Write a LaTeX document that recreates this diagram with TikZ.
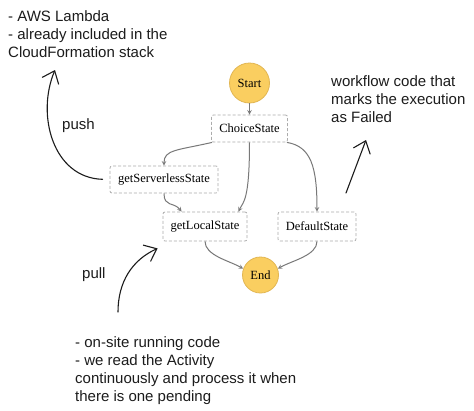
\documentclass[tikz,border=0pt]{standalone}
\usepackage{fontspec}
\setmainfont{Liberation Serif}
\setsansfont{Liberation Sans}
\usepackage{xcolor}
\usetikzlibrary{calc, arrows.meta}

\definecolor{stateYellow}{RGB}{250,206,96}
\definecolor{stateRim}{RGB}{226,182,82}
\definecolor{boxRim}{RGB}{172,172,172}
\definecolor{flowGray}{RGB}{120,120,120}
\definecolor{noteInk}{RGB}{28,28,28}

\tikzset{
	terminal/.style = {circle, draw = stateRim, fill = stateYellow, line width = 0.8pt, inner sep = 0pt, text = black, font = \fontsize{12.5}{14}\selectfont},
	statebox/.style = {draw = boxRim, dash pattern = on 3pt off 2pt, rounded corners = 2pt, line width = 0.8pt, inner sep = 0pt, font = \fontsize{12.5}{14}\selectfont, text = black},
	flow/.style = {-stealth, flowGray, line width = 1pt},
	note/.style = {align = left, inner sep = 0pt, anchor = base west, font = \sffamily\fontsize{15}{18}\selectfont, text = noteInk},
	scribble/.style = {-{Straight Barb[length = 11pt, width = 18pt]}, noteInk, line width = 1.1pt, line cap = round}
}

\begin{document}
\begin{tikzpicture}[x = 1pt, y = -1pt]
			\def\W{474};
			\def\H{410};

			\useasboundingbox (0,0) rectangle (\W,\H);
			\fill [white] (0,0) rectangle (\W,\H);

			\begin{scope}
				\node [terminal, minimum size = 40pt] (start) at (249.5,83) {Start};
				\node [statebox, minimum width = 76pt, minimum height = 27pt] (choice) at (249.5,128.5) {ChoiceState};
				\node [statebox, minimum width = 108pt, minimum height = 27pt] (serverless) at (164,179.5) {getServerlessState};
				\node [statebox, minimum width = 84pt, minimum height = 29pt] (local) at (205,226.5) {getLocalState};
				\node [statebox, minimum width = 78pt, minimum height = 29pt] (default) at (317,226.5) {DefaultState};
				\node [terminal, minimum size = 36pt] (finish) at (260.5,275) {End};
			\end{scope}

			\begin{scope}[flow]
				\draw (start) -- (choice);
				\draw ([xshift=1pt]choice.south west) .. controls +(-35,8) and +(0,-16) .. (serverless.north);
				\draw (choice.south) .. controls +(0,58) and +(5,-10) .. ([xshift=-9pt]local.north east);
				\draw (serverless.south) .. controls +(0,14) and +(-8,-10) .. ([xshift=19pt]local.north west);
				\draw ([xshift=-1pt]choice.south east) .. controls +(24,4) and +(0,-45) .. (default.north);
				\draw (local.south) .. controls +(0,14) and +(-14,-8) .. (finish.160);
				\draw (default.south) .. controls +(0,14) and +(14,-8) .. (finish.20);
			\end{scope}

			\node [note] (lambdaNote) at (8,57.7) {- AWS Lambda\\- already included in the\\CloudFormation stack};
			\node [note] (pushLabel) at (62,129) {push};
			\node [note] (failNote) at (331,122) {workflow code that\\marks the execution\\as Failed};
			\node [note] (pullLabel) at (82,278.5) {pull};
			\node [note] (activityNote) at (75,401.5) {- on-site running code\\- we read the Activity\\continuously and process it when\\there is one pending};

			\coordinate (pushTip) at (55,70);
			\coordinate (pullTail) at (118,312);
			\coordinate (pullTip) at ([xshift=-5pt, yshift=-7pt]local.south west);
			\coordinate (failTail) at (346,193);
			\coordinate (failTip) at (366,140);

			\begin{scope}[scribble]
				\draw [shorten <= 7pt] (serverless.west) .. controls (53,178) and (36,115) .. (pushTip);
				\draw (pullTail) .. controls (118,282) and (132,260) .. (pullTip);
				\draw (failTail) -- (failTip);
			\end{scope}
		\end{tikzpicture}
\end{document}
